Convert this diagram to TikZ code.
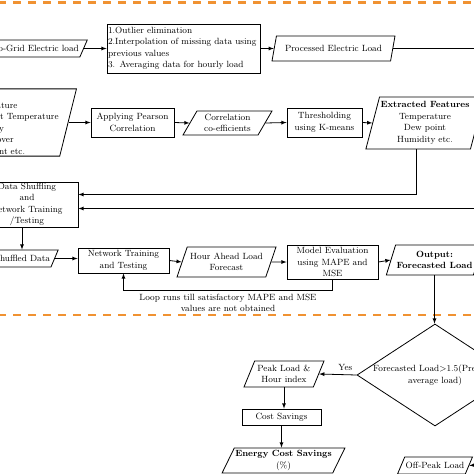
\documentclass[tikz,border=0pt]{standalone}
\usepackage{amsmath}
\usepackage{xcolor}
\usepackage{tikz}
\usetikzlibrary{shapes,arrows}

\definecolor{sepline}{RGB}{240,146,50}

\tikzset{
  procbox/.style={draw, line width=0.8pt, rectangle, align=center, inner sep=1pt},
  databox/.style={draw, line width=0.8pt, trapezium, trapezium stretches body, align=center, inner sep=1pt},
  tilt/.code={\pgfmathsetmacro\tiltright{180-#1}\pgfkeysalso{/pgf/trapezium left angle=#1, /pgf/trapezium right angle=\tiltright}},
  flow/.style={-latex, line width=0.8pt},
  sepdash/.style={sepline, line width=2.5pt, dash pattern=on 8pt off 7pt}
}

\begin{document}
\begin{tikzpicture}[x=1pt, y=-1pt, font=\fontsize{9}{11.5}\selectfont]

\useasboundingbox (0,0) rectangle (474,474);
\clip (0,0) rectangle (474,474);

\draw [sepdash] (-2,2.5) -- (480,2.5);
\draw [sepdash] (-2,315) -- (480,315);

\node[databox, tilt=49, minimum height=17pt, anchor=east] (gridload) at (84,48.5) {Micro-Grid Electric load};
\node[procbox, text width=151pt, align=left, minimum height=49pt] (clean) at (183.5,48.5) {1.Outlier elimination\\2.Interpolation of missing data using\\previous values\\3. Averaging data for hourly load};
\node[databox, tilt=62, minimum width=123pt, minimum height=25pt] (processed) at (333.5,48.5) {Processed Electric Load};
\coordinate (loadout) at (485,48.5);

\node[databox, tilt=76, minimum height=67pt, inner ysep=0pt, anchor=east, align=left] (weather) at (68.5,122.5) {\mbox{}\\[8pt]Temperature\\Apparent Temperature\\Humidity\\Cloud cover\\Dew point etc.};
\node[procbox, minimum width=83pt, minimum height=29pt] (pearson) at (132.5,122.5) {Applying Pearson\\Correlation};
\node[databox, tilt=55, minimum width=89pt, minimum height=24pt] (corr) at (227.5,123) {Correlation\\co-efficients};
\node[procbox, minimum width=75pt, minimum height=29pt] (kmeans) at (324.5,122.5) {Thresholding\\using K-means};
\node[databox, tilt=73, minimum width=100pt, minimum height=52pt] (features) at (425,123) {\textbf{Extracted Features}\\Temperature\\Dew point\\Humidity etc.};

\node[procbox, minimum width=102pt, minimum height=43pt] (shuffle) at (27,204.5) {Data Shuffling\\and\\Network Training\\/Testing};
\coordinate (retrain) at (485,208.5);

\node[databox, tilt=50, minimum height=17pt, anchor=east] (shuffled) at (55,258.5) {Shuffled Data};
\node[procbox, minimum width=91pt, minimum height=25pt] (train) at (123.5,260.5) {Network Training\\and Testing};
\node[databox, tilt=63, minimum width=99pt, minimum height=30pt] (hour) at (226.5,262) {Hour Ahead Load\\Forecast};
\node[procbox, minimum width=91pt, minimum height=34pt] (evalbox) at (332.5,262) {Model Evaluation\\using MAPE and\\MSE};
\node[databox, tilt=65, minimum width=87pt, minimum height=30pt] (output) at (434.5,260) {\textbf{Output:}\\\textbf{Forecasted Load}};
\node[align=center] (loopnote) at (228,303) {Loop runs till satisfactory MAPE and MSE\\values are not obtained};

\node[draw, diamond, line width=0.8pt, shape aspect=1.53, minimum width=156pt, minimum height=102pt, inner sep=0pt, align=center] (check) at (435,375) {Forecasted Load>1.5(Previous\\average load)};
\node[databox, tilt=62, minimum width=80pt, minimum height=26pt] (peak) at (284,374) {Peak Load \&\\Hour index};
\node[procbox, minimum width=79pt, minimum height=16pt] (cost) at (281.5,417) {Cost Savings};
\node[databox, tilt=61, minimum width=111pt, minimum height=25pt] (energy) at (283.5,460.5) {\textbf{Energy Cost Savings}\\(\%)};
\node[databox, tilt=50, minimum width=74pt, minimum height=17pt] (offpeak) at (435,465.5) {Off-Peak Load};
\coordinate (nobranch) at (490,464);

\draw [flow] (gridload.east) -- (clean.west);
\draw [flow] (clean.east) -- (processed.west);
\draw [line width=0.8pt] (processed.east) -- (loadout);

\draw [flow] (weather.east) -- (pearson.west);
\draw [flow] (pearson.east) -- (corr.west);
\draw [flow] (corr.east) -- (kmeans.west);
\draw [flow] (kmeans.east) -- (features.west);

\draw [flow] ([xshift=-9pt]features.south) |- ([yshift=10pt]shuffle.east);
\draw [flow] (retrain) -- ([yshift=-4pt]shuffle.east);
\draw [flow] ([xshift=-5pt]shuffle.south) -- ([xshift=-5pt]shuffle.south |- shuffled.north);

\draw [flow] (shuffled.east) -- (shuffled.east -| train.west);
\draw [flow] (train.east) -- (hour.west);
\draw [flow] (hour.east) -- (evalbox.west);
\draw [flow] (evalbox.east) -- (output.west);
\draw [flow] (evalbox.south) -- ++(0,11) -| (train.south);

\draw [flow] (output.south) -- (output.south |- check.north);
\draw [flow] (check.west) -- node[above, pos=0.3] {Yes} (peak.east);
\draw [flow] (peak.south) -- (peak.south |- cost.north);
\draw [flow] (cost.south) -- (cost.south |- energy.north);
\draw [flow] (nobranch) -- (offpeak.east);

\end{tikzpicture}
\end{document}
